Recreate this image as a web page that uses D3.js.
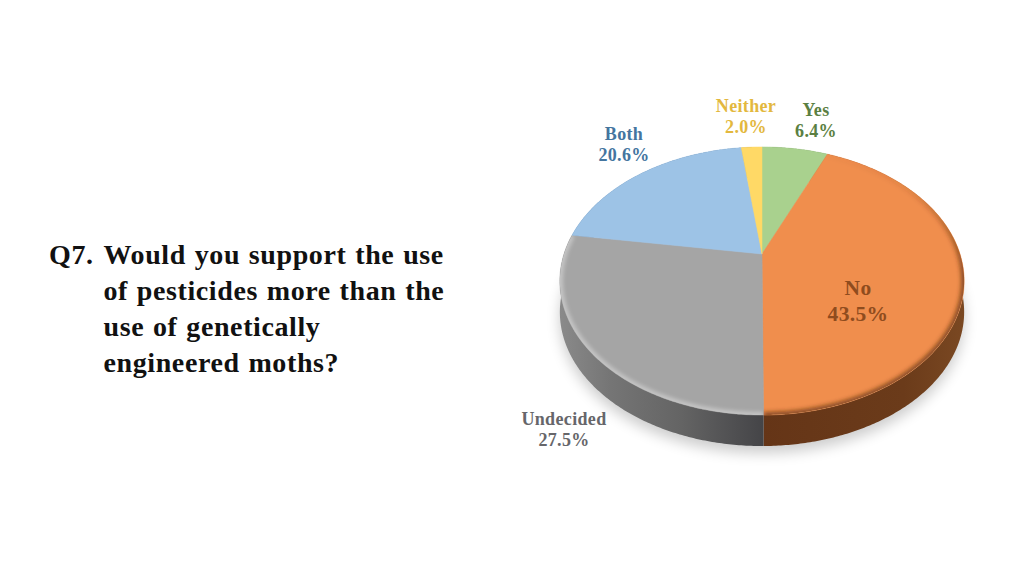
<!DOCTYPE html>
<html><head><meta charset="utf-8">
<script src="https://cdn.jsdelivr.net/npm/d3@7"></script>
<style>html,body{margin:0;padding:0;background:#fff}svg{display:block}text{font-family:"Liberation Serif",serif;font-weight:bold}</style>
</head><body><svg id="c" width="1024" height="576"></svg>
<script>
const categories = ["Yes","No","Undecided","Both","Neither"];
const percents = [6.4,43.5,27.5,20.6,2.0];
const topColors = ["#A9D18E","#F08E4D","#A5A5A5","#9DC3E6","#FFD966"];
const sideColors = ["#5f7f48","url(#sideOrange)","url(#sideGrey)","#4f6f8f","#b09030"];
const labelColors = ["#5b7f42","#8f4c1e","#66666a","#44759f","#e3b83e"];
const titleLines = ["Would you support the use","of pesticides more than the","use of genetically","engineered moths?"];
const titlePrefix = "Q7.";

const layout = {cx:762, cy:254, rx:198, ry:128.6, persp:0.2015, depth:31};
const labelAt = {Yes:[816,116],No:[858,295],Undecided:[564,425],Both:[624,140],Neither:[746,112]};

const svg = d3.select("#c");
const defs = svg.append("defs");
const grad=(id,stops)=>{const g=defs.append("linearGradient").attr("id",id).attr("gradientUnits","userSpaceOnUse")
  .attr("x1",layout.cx-layout.rx*1.02).attr("x2",layout.cx).attr("y1",0).attr("y2",0);
  stops.forEach(s=>g.append("stop").attr("offset",s[0]).attr("stop-color",s[1]));};
grad("sideGrey",[[0,"#8a8a8a"],[.25,"#757575"],[.6,"#646464"],[1,"#454548"]]);
defs.append("linearGradient").attr("id","sideOrange").attr("gradientUnits","userSpaceOnUse")
  .attr("x1",layout.cx).attr("x2",layout.cx+layout.rx*1.02).attr("y1",0).attr("y2",0)
  .selectAll("stop").data([[0,"#653517"],[.7,"#6b3b1a"],[1,"#7a4822"]]).join("stop")
  .attr("offset",d=>d[0]).attr("stop-color",d=>d[1]);
// rim shading fades out toward the back of the disc
defs.append("linearGradient").attr("id","rimOrange").attr("gradientUnits","userSpaceOnUse")
  .attr("x1",0).attr("x2",0).attr("y1",layout.cy-107).attr("y2",layout.cy+20)
  .selectAll("stop").data([[0,0],[.35,.12],[1,.7]]).join("stop")
  .attr("offset",d=>d[0]).attr("stop-color","#5a2c0c").attr("stop-opacity",d=>d[1]);
[["b6",7],["b2",2.2]].forEach(([id,s])=>defs.append("filter").attr("id",id)
  .attr("filterUnits","userSpaceOnUse").attr("x",0).attr("y",0).attr("width",1024).attr("height",576)
  .append("feGaussianBlur").attr("stdDeviation",s));

// projection of a rim point (angle clockwise from 12 o'clock) with perspective
const project=(a,r=1,dy=0)=>{
  const X=Math.sin(a)*r, Y=-Math.cos(a)*r, d=1-layout.persp*Y;
  return [layout.cx+layout.rx*X/d, layout.cy+layout.ry*Y/d+dy];
};
const arcs=d3.pie().value(d=>d).sort(null)(percents);
const line=d3.line();
const samples=(a0,a1,dy=0)=>{const n=Math.max(2,Math.ceil((a1-a0)/0.01));
  return d3.range(n+1).map(i=>project(a0+(a1-a0)*i/n,1,dy));};
const slicePath=d=>line([[layout.cx,layout.cy],...samples(d.startAngle,d.endAngle)])+"Z";
const wallPath=d=>line([...samples(d.startAngle,d.endAngle),...samples(d.startAngle,d.endAngle,layout.depth).reverse()])+"Z";
const full=2*Math.PI;
const discPath=line(samples(0,full))+"Z";

// soft ground shadow
svg.append("path").attr("d",line(samples(0,full,layout.depth+7))+"Z").attr("fill","#000").attr("opacity",.2).attr("filter","url(#b6)");

// side wall
svg.append("g").selectAll("path").data(arcs).join("path").attr("d",wallPath)
  .attr("fill",(d,i)=>sideColors[i]);

// top faces
defs.append("clipPath").attr("id","disc").append("path").attr("d",discPath);
svg.append("g").selectAll("path").data(arcs).join("path").attr("d",slicePath)
  .attr("fill",(d,i)=>topColors[i]).attr("stroke",(d,i)=>topColors[i]).attr("stroke-width",.5);

// bevel: shading on the front rim, inside the two front slices
const bevel=svg.append("g").attr("clip-path","url(#disc)");
const rimStroke={No:"url(#rimOrange)",Undecided:"#ffffff"};
const rimOpacity={No:1,Undecided:.38};
arcs.forEach((d,i)=>{
  const c=categories[i];
  if(!rimStroke[c]) return;
  const cid="s"+i;
  defs.append("clipPath").attr("id",cid).append("path").attr("d",slicePath(d));
  bevel.append("g").attr("clip-path",`url(#${cid})`).append("path")
    .attr("d",line(samples(d.startAngle,d.endAngle)))
    .attr("fill","none").attr("stroke",rimStroke[c])
    .attr("stroke-width",6)
    .attr("opacity",rimOpacity[c])
    .attr("filter","url(#b2)");
});

// data labels
const labels=svg.append("g").attr("text-anchor","middle");
categories.forEach((c,i)=>{
  const [x,y]=labelAt[c], big=c==="No", fs=big?21.5:18, lh=big?26:21;
  const t=labels.append("text").attr("fill",labelColors[i]).attr("font-size",fs).attr("letter-spacing",.35);
  t.append("tspan").attr("x",x).attr("y",y).text(c);
  t.append("tspan").attr("x",x).attr("y",y+lh).text(percents[i].toFixed(1)+"%");
});

// question text
const q=svg.append("g").attr("fill","#111").attr("font-size",28).attr("letter-spacing",.6).attr("word-spacing",1.2);
q.append("text").attr("x",49).attr("y",264).text(titlePrefix);
titleLines.forEach((s,i)=>q.append("text").attr("x",103.5).attr("y",264+i*36).text(s));
</script></body></html>
